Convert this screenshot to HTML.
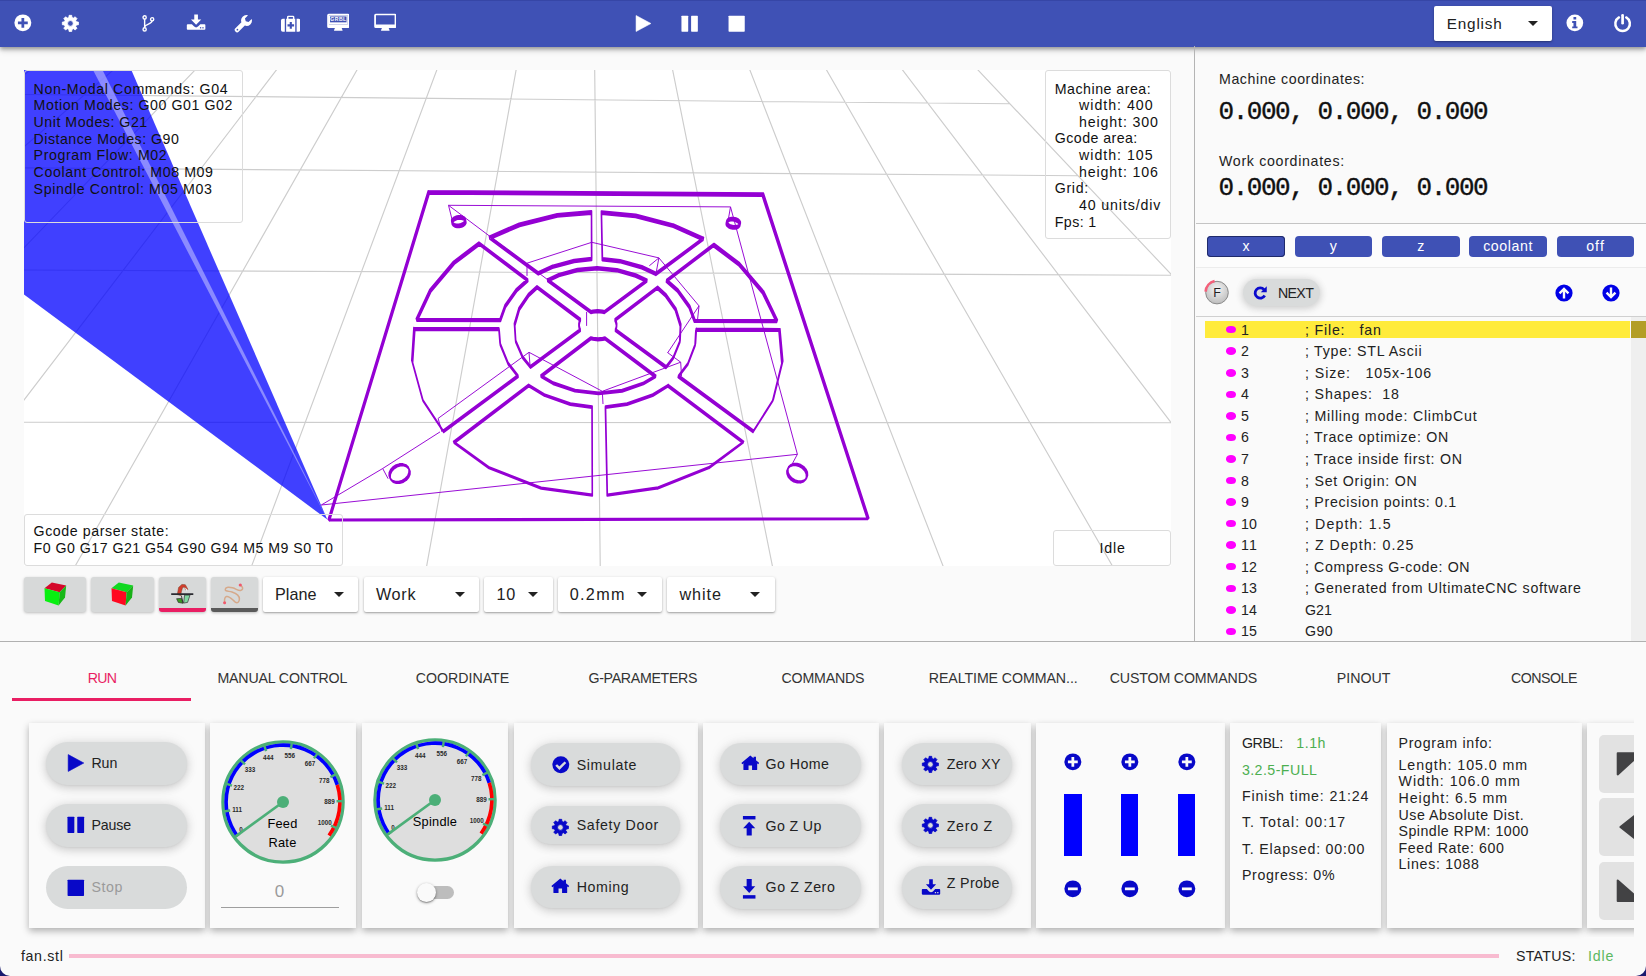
<!DOCTYPE html>
<html><head><meta charset="utf-8"><title>UltimateCNC</title>
<style>
html,body{margin:0;padding:0}
body{width:1646px;height:976px;overflow:hidden;position:relative;background:#fafafa;font-family:"Liberation Sans",sans-serif;font-size:14.5px;color:#212121}
.abs{position:absolute}
#topbar{position:absolute;left:0;top:0;width:1646px;height:46.5px;background:#3f51b5;box-shadow:0 2px 4px rgba(0,0,0,.32),0 4px 6px rgba(0,0,0,.12)}
#topbar:before{content:"";position:absolute;left:0;top:0;width:100%;height:1px;background:#3646a6}
.sel{position:absolute;background:#fff;border-radius:2px;box-shadow:0 1px 3px rgba(0,0,0,.28),0 1px 1px rgba(0,0,0,.12);box-sizing:border-box}
.sel i{position:absolute;top:50%;margin-top:-2.2px;margin-left:-0.4px;width:0;height:0;border-left:5.2px solid transparent;border-right:5.2px solid transparent;border-top:5.4px solid #222}
.ov{position:absolute;border:1px solid #dcdcdc;border-radius:3px;box-sizing:border-box}
.tb{position:absolute;top:576.9px;height:35.1px;background:#d7d9d9;border-radius:3px;box-shadow:0 1px 3px rgba(0,0,0,.25);box-sizing:border-box;overflow:hidden}
.bbtn{position:absolute;top:236px;height:20.5px;width:77.5px;background:#3f51b5;border-radius:4px;color:#fff;text-align:center;line-height:20px;box-sizing:border-box}
.row{position:absolute;left:1205px;width:425px;height:16.5px}
.dot{position:absolute;width:10px;height:7.6px;border-radius:50%;background:#ff00ff}
.card{position:absolute;top:722.5px;height:205.3px;background:#fafafa;box-shadow:0 3px 7px rgba(0,0,0,.3)}
.pill{position:absolute;height:43px;border-radius:22px;background:#d9dbdb;box-shadow:0 1px 2px rgba(0,0,0,.04),0 3px 10px rgba(0,0,0,.15),0 0 14px rgba(0,0,0,.08)}
.pill.flat{box-shadow:none}
.tab{position:absolute;top:664px;width:180.2px;height:28px;text-align:center;line-height:28px;color:#333;white-space:pre}
</style></head><body>

<div id="topbar">
<svg style="position:absolute;left:13.45px;top:13.45px" width="19.7" height="19.7" viewBox="0 0 20 20"><circle cx="10" cy="10" r="8.6" fill="#fff"/><path d="M8.6 5h2.8v3.6h3.6v2.8h-3.6v3.6h-2.8v-3.6h-3.6v-2.8h3.6z" fill="#3f51b5"/></svg>
<svg style="position:absolute;left:61.1px;top:14.0px" width="18.8" height="18.8" viewBox="0 0 20 20"><path fill-rule="evenodd" d="M16.39 8.36L18.58 8.57L18.58 11.43L16.39 11.64L15.68 13.36L17.08 15.06L15.06 17.08L13.36 15.68L11.64 16.39L11.43 18.58L8.57 18.58L8.36 16.39L6.64 15.68L4.94 17.08L2.92 15.06L4.32 13.36L3.61 11.64L1.42 11.43L1.42 8.57L3.61 8.36L4.32 6.64L2.92 4.94L4.94 2.92L6.64 4.32L8.36 3.61L8.57 1.42L11.43 1.42L11.64 3.61L13.36 4.32L15.06 2.92L17.08 4.94L15.68 6.64ZM7.00 10.00a3.00 3.00 0 1 0 6.00 0a3.00 3.00 0 1 0 -6.00 0Z" fill="#fff" stroke="#fff" stroke-width="0.8" stroke-linejoin="round"/></svg>
<svg style="position:absolute;left:139.1px;top:13.9px" width="18.8" height="18.8" viewBox="0 0 20 20"><g fill="none" stroke="#fff" stroke-width="1.5"><circle cx="6" cy="3.6" r="1.7"/><circle cx="14" cy="5.6" r="1.7"/><circle cx="6" cy="16.4" r="1.7"/><path d="M6 5.3V14.7M14 7.3C14 11 6 10.5 6 14.2"/></g></svg>
<svg style="position:absolute;left:185.9px;top:13.2px" width="20.2" height="18.4" viewBox="-1 0 22 20"><path d="M8 1.5h4v5.5h3.6L10 12.8 4.4 7H8z" fill="#fff"/><path d="M0.8 12.2h4.6l2.2 2.3a3.3 3.3 0 0 0 4.8 0l2.2-2.3h4.6a0.9 0.9 0 0 1 .9.9v4.3a0.9 0.9 0 0 1-.9.9H0.8a0.9 0.9 0 0 1-.9-.9v-4.3a0.9 0.9 0 0 1 .9-.9z" fill="#fff"/><rect x="14.2" y="15.4" width="1.4" height="1.4" fill="#3f51b5"/><rect x="16.8" y="15.4" width="1.4" height="1.4" fill="#3f51b5"/></svg>
<svg style="position:absolute;left:233.7px;top:13.7px" width="19" height="19" viewBox="0 0 20 20"><path d="M18.6 5.2l-3.3 3.3-2.9-.9-.9-2.9 3.3-3.3a5.6 5.6 0 0 0-7 7.2L1.5 14.9a2.2 2.2 0 0 0 3.6 3.6l6.300-6.300a5.600 5.600 0 0 0 7.200-7zM3.600 17.400a.9.900 0 1 1 0-1.800.900.900 0 0 1 0 1.800z" fill="#fff" fill-rule="evenodd"/></svg>
<svg style="position:absolute;left:280.5px;top:13.7px" width="19.4" height="19.4" viewBox="0 0 20 20"><path fill-rule="evenodd" d="M6.200 4.800V3.200a1.500 1.500 0 0 1 1.500-1.500h4.600a1.500 1.500 0 0 1 1.500 1.500v1.600h.9v13.500H5.300V4.800zM7.700 4.800h4.600V3.200H7.700zM9 8.200v2.300H6.700v2.400H9v2.300h2.200v-2.300h2.300v-2.400h-2.300V8.200z" fill="#fff"/><path d="M1.800 4.800h2.100v13.500H1.800a1.800 1.800 0 0 1-1.800-1.800V6.600a1.800 1.800 0 0 1 1.800-1.800zM16.100 4.800h2.100a1.800 1.800 0 0 1 1.800 1.800v9.900a1.800 1.800 0 0 1-1.800 1.800h-2.100z" fill="#fff"/></svg>
<svg style="position:absolute;left:327.2px;top:12.9px" width="21.6" height="18.2" viewBox="-0.5 0.5 22 18.5"><path fill-rule="evenodd" d="M1.300 1.200h19.400a1.600 1.600 0 0 1 1.600 1.600v11.400a1.600 1.600 0 0 1-1.600 1.600h-6.200c0 .9.500 1.500.8 1.900v.9H6.700v-.9c.300-.4.800-1 .800-1.900H1.300a1.600 1.600 0 0 1-1.600-1.600V2.800a1.600 1.600 0 0 1 1.600-1.600zM1.500 2.900v9.300h19V2.900z" fill="#fff"/><path d="M1.500 2.900h19v9.300h-19z" fill="#fff"/><rect x="2.600" y="4" width="16.800" height="6" fill="#3f51b5"/><text x="11.200" y="9" font-family="Liberation Sans" font-weight="bold" font-size="5.200" text-anchor="middle" fill="#fff" letter-spacing="0.5">GRBL</text></svg>
<svg style="position:absolute;left:374.2px;top:12.9px" width="21.6" height="18.2" viewBox="-0.5 0.5 22 18.5"><path fill-rule="evenodd" d="M1.300 1.200h19.400a1.600 1.600 0 0 1 1.600 1.600v11.400a1.600 1.600 0 0 1-1.600 1.600h-6.200c0 .9.500 1.500.8 1.900v.9H6.700v-.9c.300-.4.800-1 .800-1.900H1.300a1.600 1.600 0 0 1-1.600-1.600V2.800a1.600 1.600 0 0 1 1.600-1.600zM1.500 2.900v9.300h19V2.900z" fill="#fff"/></svg>
<svg style="position:absolute;left:633.7px;top:13.9px" width="19" height="19" viewBox="0 0 20 20"><path d="M2.200 1.600L17.800 10 2.200 18.400z" fill="#fff" stroke="#fff" stroke-width="0.6" stroke-linejoin="round"/></svg>
<svg style="position:absolute;left:680.05px;top:13.65px" width="19.3" height="19.3" viewBox="0 0 20 20"><rect x="1.500" y="1.700" width="7" height="16.600" rx=".6" fill="#fff"/><rect x="11.500" y="1.700" width="7" height="16.600" rx=".6" fill="#fff"/></svg>
<svg style="position:absolute;left:726.95px;top:13.65px" width="19.3" height="19.3" viewBox="0 0 20 20"><rect x="1.600" y="1.700" width="16.800" height="16.600" rx=".7" fill="#fff"/></svg>
<div class="sel" style="left:1434.4px;top:5.8px;width:117.7px;height:35px"><i style="left:93.5px"></i></div>
<div style="position:absolute;left:1446.8px;top:16.15px;line-height:1;white-space:pre;"><span style="font-size:15.3px;letter-spacing:0.80px;">English</span></div>
<svg style="position:absolute;left:1565.45px;top:13.45px" width="19.7" height="19.7" viewBox="0 0 20 20"><circle cx="10" cy="10" r="8.500" fill="#fff"/><path d="M8.600 4h2.800v2.500H8.600zM7.300 8.200h4.100v5.400h1.300v2H7.300v-2h1.300v-3.400H7.300z" fill="#3f51b5"/></svg>
<svg style="position:absolute;left:1612.6px;top:13.6px" width="19.2" height="19.2" viewBox="0 0 20 20"><path d="M13.800 3.600a7.600 7.600 0 1 1-7.600 0" fill="none" stroke="#fff" stroke-width="2.600" stroke-linecap="round"/><path d="M10 1.400V9.600" stroke="#fff" stroke-width="2.800" stroke-linecap="round"/></svg>
</div>
<svg width="1147.5" height="496" viewBox="23.5 70 1147.5 496" style="position:absolute;left:23.5px;top:70px;background:#fff"><path d="M-2653.4 808.3L-211.4 -56.6M-2401.3 805.9L-152.7 -55.8M-2152.5 803.5L-94.3 -55.0M-1906.9 801.2L-36.0 -54.2M-1664.3 798.9L22.1 -53.5M-1424.8 796.6L80.0 -52.7M-1188.3 794.3L137.7 -51.9M-954.8 792.1L195.2 -51.1M-724.1 789.9L252.6 -50.3M-496.3 787.8L309.7 -49.6M-271.3 785.6L366.7 -48.8M-48.9 783.5L423.5 -48.0M170.7 781.4L480.1 -47.3M387.7 779.4L536.6 -46.5M602.1 777.3L592.9 -45.8M814.0 775.3L649.0 -45.0M1023.3 773.3L704.9 -44.2M1230.3 771.3L760.6 -43.5M1434.8 769.4L816.2 -42.7M1636.9 767.5L871.6 -42.0M-2663.3 421.1L1311.1 422.8M-1978.6 260.8L1171.7 275.3M-1532.0 156.3L1077.5 175.7M-1217.8 82.7L1009.5 103.8M-984.6 28.2L958.1 49.5" fill="none" stroke="#cdcdcd" stroke-width="1.15"/><polygon points="23.5,70 130.8,70 326.8,519.5 23.5,294.5" fill="#0000ff" fill-opacity="0.75"/><polygon points="92.5,70 102,70 326.8,519.5" fill="#a4a4ff" fill-opacity="0.75"/><g fill="#9400d3" stroke="#9400d3" stroke-width="1.6" stroke-linejoin="round"><path d="M327.8 519.2L868.3 518.0L867.0 519.5L329.0 520.8ZM868.3 518.0L762.8 193.0L761.9 196.3L867.0 519.5ZM762.8 193.0L427.8 190.7L428.6 194.0L761.9 196.3ZM427.8 190.7L327.8 519.2L329.0 520.8L428.6 194.0Z"/><path d="M776.9 319.8L763.0 290.9L762.1 293.7L776.0 322.4ZM763.0 290.9L738.9 262.7L738.2 265.6L762.1 293.7ZM738.9 262.7L713.5 243.5L712.9 246.5L738.2 265.6ZM713.5 243.5L666.3 279.4L665.9 282.2L712.9 246.5ZM666.3 279.4L677.4 289.2L676.9 291.9L665.9 282.2ZM677.4 289.2L689.2 305.5L688.7 308.2L676.9 291.9ZM689.2 305.5L694.4 319.5L693.9 322.1L688.7 308.2ZM694.4 319.5L776.9 319.8L776.0 322.4L693.9 322.1Z"/><path d="M703.0 237.4L673.2 224.2L672.8 227.3L702.4 240.4ZM673.2 224.2L635.3 214.3L635.0 217.5L672.8 227.3ZM635.3 214.3L600.9 211.0L600.9 214.1L635.0 217.5ZM600.9 211.0L601.9 257.7L601.8 260.6L600.9 214.1ZM601.9 257.7L619.5 259.7L619.4 262.6L601.8 260.6ZM619.5 259.7L641.4 265.8L641.2 268.7L619.4 262.6ZM641.4 265.8L655.6 272.5L655.3 275.3L641.2 268.7ZM655.6 272.5L703.0 237.4L702.4 240.4L655.3 275.3Z"/><path d="M591.0 210.9L556.7 213.8L556.8 217.0L591.0 214.1ZM556.7 213.8L518.7 223.2L519.1 226.4L556.8 217.0ZM518.7 223.2L488.9 236.2L489.4 239.2L519.1 226.4ZM488.9 236.2L537.6 271.9L537.8 274.8L489.4 239.2ZM537.6 271.9L551.7 265.4L551.9 268.3L537.8 274.8ZM551.7 265.4L573.6 259.5L573.6 262.4L551.9 268.3ZM573.6 259.5L591.2 257.6L591.1 260.5L573.6 262.4ZM591.2 257.6L591.0 210.9L591.0 214.1L591.1 260.5Z"/><path d="M478.4 242.2L453.1 261.3L453.8 264.2L479.0 245.2ZM453.1 261.3L429.3 289.6L430.1 292.3L453.8 264.2ZM429.3 289.6L415.8 318.6L416.6 321.2L430.1 292.3ZM415.8 318.6L499.5 318.9L499.9 321.5L416.6 321.2ZM499.5 318.9L504.6 304.8L504.9 307.5L499.9 321.5ZM504.6 304.8L516.1 288.5L516.4 291.3L504.9 307.5ZM516.1 288.5L527.0 278.8L527.3 281.6L516.4 291.3ZM527.0 278.8L478.4 242.2L479.0 245.2L527.3 281.6Z"/><path d="M413.4 327.6L411.3 360.4L412.1 362.7L414.3 330.1ZM411.3 360.4L421.9 399.1L422.7 401.3L412.1 362.7ZM421.9 399.1L442.5 430.4L443.2 432.4L422.7 401.3ZM442.5 430.4L517.3 375.0L517.6 377.3L443.2 432.4ZM517.3 375.0L507.4 362.3L507.8 364.7L517.6 377.3ZM507.4 362.3L499.5 342.9L499.9 345.4L507.8 364.7ZM499.5 342.9L498.3 327.8L498.7 330.4L499.9 345.4ZM498.3 327.8L413.4 327.6L414.3 330.1L498.7 330.4Z"/><path d="M453.1 441.3L488.1 466.7L488.6 468.5L453.8 443.3ZM488.1 466.7L540.5 487.2L540.7 489.0L488.6 468.5ZM540.5 487.2L591.8 494.3L591.8 496.0L540.7 489.0ZM591.8 494.3L591.6 406.0L591.5 408.1L591.8 496.0ZM591.6 406.0L569.7 403.0L569.8 405.2L591.5 408.1ZM569.7 403.0L543.7 393.9L543.9 396.1L569.8 405.2ZM543.7 393.9L528.1 384.4L528.3 386.6L543.9 396.1ZM528.1 384.4L453.1 441.3L453.8 443.3L528.3 386.6Z"/><path d="M606.8 494.3L657.8 487.1L657.4 488.8L606.7 496.0ZM657.8 487.1L709.1 466.5L708.6 468.3L657.4 488.8ZM709.1 466.5L743.1 441.3L742.3 443.2L708.6 468.3ZM743.1 441.3L667.7 384.6L667.3 386.8L742.3 443.2ZM667.7 384.6L652.4 394.0L652.1 396.2L667.3 386.8ZM652.4 394.0L626.7 403.0L626.5 405.2L652.1 396.2ZM626.7 403.0L605.0 406.0L604.9 408.1L626.5 405.2ZM605.0 406.0L606.8 494.3L606.7 496.0L604.9 408.1Z"/><path d="M753.2 430.4L772.8 399.5L771.9 401.6L752.4 432.4ZM772.8 399.5L782.3 361.1L781.3 363.5L771.9 401.6ZM782.3 361.1L779.4 328.7L778.5 331.2L781.3 363.5ZM779.4 328.7L695.9 328.4L695.3 331.0L778.5 331.2ZM695.9 328.4L695.0 343.4L694.5 345.9L695.3 331.0ZM695.0 343.4L687.6 362.7L687.2 365.0L694.5 345.9ZM687.6 362.7L678.2 375.2L677.7 377.5L687.2 365.0ZM678.2 375.2L753.2 430.4L752.4 432.4L677.7 377.5Z"/><path d="M646.4 279.3L635.2 274.0L634.9 276.9L646.1 282.1ZM635.2 274.0L616.4 268.7L616.2 271.6L634.9 276.9ZM616.4 268.7L596.6 266.8L596.6 269.7L616.2 271.6ZM596.6 266.8L576.9 268.5L577.0 271.4L596.6 269.7ZM576.9 268.5L558.2 273.7L558.4 276.5L577.0 271.4ZM558.2 273.7L547.1 278.9L547.3 281.7L558.4 276.5ZM547.1 278.9L590.4 310.7L590.4 313.4L547.3 281.7ZM590.4 310.7L592.4 310.3L592.3 312.9L590.4 313.4ZM592.4 310.3L597.1 309.8L597.1 312.5L592.3 312.9ZM597.1 309.8L601.9 310.3L601.9 312.9L597.1 312.5ZM601.9 310.3L603.9 310.8L603.8 313.4L601.9 312.9ZM603.9 310.8L646.4 279.3L646.1 282.1L603.8 313.4Z"/><path d="M536.5 285.9L528.0 293.7L528.3 296.4L536.7 288.7ZM528.0 293.7L518.5 307.7L518.8 310.3L528.3 296.4ZM518.5 307.7L513.9 323.4L514.3 325.9L518.8 310.3ZM513.9 323.4L515.0 339.9L515.3 342.4L514.3 325.9ZM515.0 339.9L522.0 356.0L522.3 358.4L515.3 342.4ZM522.0 356.0L529.7 365.8L530.0 368.1L522.3 358.4ZM529.7 365.8L579.6 328.8L579.7 331.3L530.0 368.1ZM579.6 328.8L579.0 327.2L579.0 329.8L579.7 331.3ZM579.0 327.2L578.4 323.6L578.4 326.1L579.0 329.8ZM578.4 323.6L579.1 319.9L579.1 322.5L578.4 326.1ZM579.1 319.9L579.8 318.5L579.8 321.1L579.1 322.5ZM579.8 318.5L536.5 285.9L536.7 288.7L579.8 321.1Z"/><path d="M540.5 375.0L552.7 382.1L552.8 384.4L540.7 377.3ZM552.7 382.1L574.4 389.6L574.5 391.8L552.8 384.4ZM574.4 389.6L598.1 392.2L598.0 394.4L574.5 391.8ZM598.1 392.2L621.7 389.6L621.6 391.9L598.0 394.4ZM621.7 389.6L643.2 382.2L642.9 384.5L621.6 391.9ZM643.2 382.2L655.2 375.2L654.8 377.5L642.9 384.5ZM655.2 375.2L604.5 337.1L604.4 339.6L654.8 377.5ZM604.5 337.1L602.5 337.6L602.4 340.1L604.4 339.6ZM602.5 337.6L597.5 338.1L597.4 340.6L602.4 340.1ZM597.5 338.1L592.5 337.5L592.4 340.0L597.4 340.6ZM592.5 337.5L590.4 337.0L590.4 339.5L592.4 340.0ZM590.4 337.0L540.5 375.0L540.7 377.3L590.4 339.5Z"/><path d="M665.7 366.0L673.1 356.4L672.7 358.8L665.3 368.4ZM673.1 356.4L679.6 340.3L679.2 342.8L672.7 358.8ZM679.6 340.3L680.3 323.9L679.8 326.5L679.2 342.8ZM680.3 323.9L675.4 308.2L675.0 310.9L679.8 326.5ZM675.4 308.2L665.6 294.2L665.3 297.0L675.0 310.9ZM665.6 294.2L657.1 286.4L656.7 289.1L665.3 297.0ZM657.1 286.4L614.7 318.6L614.6 321.2L656.7 289.1ZM614.7 318.6L615.4 320.1L615.3 322.6L614.6 321.2ZM615.4 320.1L616.2 323.7L616.1 326.3L615.3 322.6ZM616.2 323.7L615.7 327.4L615.6 329.9L616.1 326.3ZM615.7 327.4L615.1 328.9L615.0 331.4L615.6 329.9ZM615.1 328.9L665.7 366.0L665.3 368.4L615.0 331.4Z"/><path d="M408.5 472.6L408.6 469.6L409.5 471.4L409.4 474.4ZM408.6 469.6L407.5 466.9L408.4 468.8L409.5 471.4ZM407.5 466.9L405.4 464.9L406.2 466.8L408.4 468.8ZM405.4 464.9L402.4 463.9L403.3 465.8L406.2 466.8ZM402.4 463.9L399.1 463.9L399.9 465.8L403.3 465.8ZM399.1 463.9L395.6 465.0L396.5 466.8L399.9 465.8ZM395.6 465.0L392.5 466.9L393.5 468.8L396.5 466.8ZM392.5 466.9L390.2 469.6L391.1 471.4L393.5 468.8ZM390.2 469.6L388.8 472.6L389.8 474.5L391.1 471.4ZM388.8 472.6L388.7 475.7L389.6 477.5L389.8 474.5ZM388.7 475.7L389.7 478.4L390.7 480.2L389.6 477.5ZM389.7 478.4L391.9 480.5L392.8 482.2L390.7 480.2ZM391.9 480.5L394.9 481.6L395.8 483.3L392.8 482.2ZM394.9 481.6L398.3 481.6L399.2 483.3L395.8 483.3ZM398.3 481.6L401.8 480.5L402.7 482.2L399.2 483.3ZM401.8 480.5L404.9 478.4L405.8 480.2L402.7 482.2ZM404.9 478.4L407.3 475.7L408.1 477.5L405.8 480.2ZM407.3 475.7L408.5 472.6L409.4 474.4L408.1 477.5Z"/><path d="M464.8 220.1L464.7 218.6L465.3 221.8L465.4 223.2ZM464.7 218.6L463.8 217.4L464.4 220.5L465.3 221.8ZM463.8 217.4L462.2 216.4L462.8 219.6L464.4 220.5ZM462.2 216.4L460.2 215.9L460.8 219.1L462.8 219.6ZM460.2 215.9L457.8 215.9L458.4 219.0L460.8 219.1ZM457.8 215.9L455.5 216.4L456.1 219.5L458.4 219.0ZM455.5 216.4L453.5 217.3L454.1 220.5L456.1 219.5ZM453.5 217.3L452.0 218.6L452.6 221.7L454.1 220.5ZM452.0 218.6L451.2 220.0L451.9 223.2L452.6 221.7ZM451.2 220.0L451.3 221.5L451.9 224.6L451.9 223.2ZM451.3 221.5L452.1 222.8L452.8 225.9L451.9 224.6ZM452.1 222.8L453.7 223.7L454.4 226.9L452.8 225.9ZM453.7 223.7L455.8 224.3L456.5 227.4L454.4 226.9ZM455.8 224.3L458.2 224.3L458.8 227.4L456.5 227.4ZM458.2 224.3L460.5 223.8L461.2 226.9L458.8 227.4ZM460.5 223.8L462.6 222.8L463.2 226.0L461.2 226.9ZM462.6 222.8L464.0 221.5L464.6 224.7L463.2 226.0ZM464.0 221.5L464.8 220.1L465.4 223.2L464.6 224.7Z"/><path d="M806.8 472.2L805.4 469.2L804.4 471.0L805.8 474.0ZM805.4 469.2L803.1 466.6L802.0 468.4L804.4 471.0ZM803.1 466.6L800.0 464.6L799.0 466.5L802.0 468.4ZM800.0 464.6L796.6 463.6L795.6 465.5L799.0 466.5ZM796.6 463.6L793.3 463.6L792.3 465.5L795.6 465.5ZM793.3 463.6L790.5 464.7L789.5 466.5L792.3 465.5ZM790.5 464.7L788.4 466.6L787.5 468.4L789.5 466.5ZM788.4 466.6L787.4 469.2L786.4 471.0L787.5 468.4ZM787.4 469.2L787.5 472.3L786.6 474.0L786.4 471.0ZM787.5 472.3L788.9 475.3L787.9 477.1L786.6 474.0ZM788.9 475.3L791.2 478.0L790.3 479.8L787.9 477.1ZM791.2 478.0L794.3 480.0L793.3 481.7L790.3 479.8ZM794.3 480.0L797.7 481.1L796.8 482.8L793.3 481.7ZM797.7 481.1L801.1 481.1L800.1 482.8L796.8 482.8ZM801.1 481.1L804.0 480.0L803.0 481.7L800.1 482.8ZM804.0 480.0L806.1 478.0L805.0 479.7L803.0 481.7ZM806.1 478.0L807.0 475.3L806.0 477.1L805.0 479.7ZM807.0 475.3L806.8 472.2L805.8 474.0L806.0 477.1Z"/><path d="M739.8 221.8L739.0 220.3L738.3 223.4L739.1 224.9ZM739.0 220.3L737.6 219.0L736.8 222.2L738.3 223.4ZM737.6 219.0L735.5 218.1L734.8 221.2L736.8 222.2ZM735.5 218.1L733.3 217.6L732.5 220.7L734.8 221.2ZM733.3 217.6L730.9 217.6L730.2 220.7L732.5 220.7ZM730.9 217.6L728.9 218.0L728.2 221.2L730.2 220.7ZM728.9 218.0L727.4 219.0L726.7 222.1L728.2 221.2ZM727.4 219.0L726.5 220.2L725.8 223.3L726.7 222.1ZM726.5 220.2L726.5 221.7L725.8 224.8L725.8 223.3ZM726.5 221.7L727.2 223.1L726.5 226.2L725.8 224.8ZM727.2 223.1L728.7 224.4L728.0 227.5L726.5 226.2ZM728.7 224.4L730.7 225.4L730.0 228.5L728.0 227.5ZM730.7 225.4L733.1 225.9L732.3 229.0L730.0 228.5ZM733.1 225.9L735.4 225.9L734.7 229.0L732.3 229.0ZM735.4 225.9L737.5 225.4L736.7 228.5L734.7 229.0ZM737.5 225.4L739.0 224.5L738.2 227.6L736.7 228.5ZM739.0 224.5L739.8 223.2L739.1 226.3L738.2 227.6ZM739.8 223.2L739.8 221.8L739.1 224.9L739.1 226.3Z"/></g><path d="M320.8 505L796.9 454.3L730 206.9L448 205.3L546.5 279.2M320.8 505L382.2 468.5L439.5 431.9M437.6 418.4L528.5 352.3L601.8 391.3L680.2 362.2L667.1 352.6M526.5 263.2L591.3 242.3L658.4 257.9L698.5 305.9L667.1 352.9M448 205.3L452 221.3M730 206.9L727.2 223M796.9 454.3L790.4 466.3M382.2 468.5L387.6 478.7M437.6 418.4L441.5 432M528.5 352.3L529.7 367.7M526.5 263.2L526.5 275.9M658.4 257.9L655.8 271.9M658.4 257.9L648.8 265.8M680.2 362.2L681 376M698.5 305.9L697 320M586.1 312L586.1 325.9M601.8 391.3L602.5 404" fill="none" stroke="#9400d3" stroke-width="1" stroke-opacity="0.95"/></svg>
<div class="ov" style="left:23.5px;top:70px;width:219px;height:152.5px"></div>
<div style="position:absolute;left:33.6px;top:82.08px;line-height:1;white-space:pre;color:#111;"><span style="font-size:14.2px;letter-spacing:0.61px;">Non-Modal Commands: G04</span></div>
<div style="position:absolute;left:33.6px;top:98.08px;line-height:1;white-space:pre;color:#111;"><span style="font-size:14.2px;letter-spacing:0.56px;">Motion Modes: G00 G01 G02</span></div>
<div style="position:absolute;left:33.6px;top:115.08px;line-height:1;white-space:pre;color:#111;"><span style="font-size:14.2px;letter-spacing:0.51px;">Unit Modes: G21</span></div>
<div style="position:absolute;left:33.6px;top:132.08px;line-height:1;white-space:pre;color:#111;"><span style="font-size:14.2px;letter-spacing:0.49px;">Distance Modes: G90</span></div>
<div style="position:absolute;left:33.6px;top:148.08px;line-height:1;white-space:pre;color:#111;"><span style="font-size:14.2px;letter-spacing:0.58px;">Program Flow: M02</span></div>
<div style="position:absolute;left:33.6px;top:165.08px;line-height:1;white-space:pre;color:#111;"><span style="font-size:14.2px;letter-spacing:0.60px;">Coolant Control: M08 M09</span></div>
<div style="position:absolute;left:33.6px;top:182.08px;line-height:1;white-space:pre;color:#111;"><span style="font-size:14.2px;letter-spacing:0.62px;">Spindle Control: M05 M03</span></div>
<div class="ov" style="left:1045px;top:70px;width:126px;height:169px"></div>
<div style="position:absolute;left:1054.8px;top:82.08px;line-height:1;white-space:pre;color:#111;"><span style="font-size:14.2px;letter-spacing:0.50px;">Machine area:</span></div>
<div style="position:absolute;left:1079.0px;top:98.08px;line-height:1;white-space:pre;color:#111;"><span style="font-size:14.2px;letter-spacing:0.99px;">width: 400</span></div>
<div style="position:absolute;left:1079.0px;top:115.08px;line-height:1;white-space:pre;color:#111;"><span style="font-size:14.2px;letter-spacing:0.88px;">height: 300</span></div>
<div style="position:absolute;left:1054.8px;top:131.08px;line-height:1;white-space:pre;color:#111;"><span style="font-size:14.2px;letter-spacing:0.44px;">Gcode area:</span></div>
<div style="position:absolute;left:1079.0px;top:148.08px;line-height:1;white-space:pre;color:#111;"><span style="font-size:14.2px;letter-spacing:0.99px;">width: 105</span></div>
<div style="position:absolute;left:1079.0px;top:165.08px;line-height:1;white-space:pre;color:#111;"><span style="font-size:14.2px;letter-spacing:0.88px;">height: 106</span></div>
<div style="position:absolute;left:1054.8px;top:181.08px;line-height:1;white-space:pre;color:#111;"><span style="font-size:14.2px;letter-spacing:0.64px;">Grid:</span></div>
<div style="position:absolute;left:1079.0px;top:198.08px;line-height:1;white-space:pre;color:#111;"><span style="font-size:14.2px;letter-spacing:0.87px;">40 units/div</span></div>
<div style="position:absolute;left:1054.8px;top:215.08px;line-height:1;white-space:pre;color:#111;"><span style="font-size:14.2px;letter-spacing:0.40px;">Fps: 1</span></div>
<div class="ov" style="left:23.5px;top:513.8px;width:319.5px;height:52px"></div>
<div style="position:absolute;left:33.5px;top:524.08px;line-height:1;white-space:pre;color:#111;"><span style="font-size:14.2px;letter-spacing:0.59px;">Gcode parser state:</span></div>
<div style="position:absolute;left:33.5px;top:541.08px;line-height:1;white-space:pre;color:#111;"><span style="font-size:14.2px;letter-spacing:0.48px;">F0 G0 G17 G21 G54 G90 G94 M5 M9 S0 T0</span></div>
<div class="ov" style="left:1053.3px;top:529.5px;width:117.7px;height:36.3px"></div>
<div style="position:absolute;left:1099.5px;top:541.08px;line-height:1;white-space:pre;color:#111;"><span style="font-size:14.2px;letter-spacing:0.84px;">Idle</span></div>
<div class="tb" style="left:23.7px;width:62.4px"><svg class="abs" style="left:0;top:0" width="62" height="35" viewBox="0 0 62 35"><polygon points="20.5,11.2 27.8,5.4 42.2,8.6 35.6,15.2" fill="#d4082a"/><polygon points="20.5,11.2 35.6,15.2 34.6,28.6 21,23.9" fill="#08f010"/><polygon points="35.6,15.2 42.2,8.6 41,20.5 34.6,28.6" fill="#18b818"/></svg></div>
<div class="tb" style="left:91.3px;width:62.4px"><svg class="abs" style="left:0;top:0" width="62" height="35" viewBox="0 0 62 35"><polygon points="20.5,11.2 27.8,5.4 42.2,8.6 35.6,15.2" fill="#10d820"/><polygon points="20.5,11.2 35.6,15.2 34.6,28.6 21,23.9" fill="#ff0820"/><polygon points="35.6,15.2 42.2,8.6 41,20.5 34.6,28.6" fill="#18b018"/></svg></div>
<div class="tb" style="left:158.8px;width:47.2px;border-bottom:4px solid #e91e63"><svg class="abs" style="left:0;top:0" width="47" height="31" viewBox="0 0 47 31"><path d="M18.3 17.7L19.6 10.4 22.9 7.4 26.3 7.7 29 12.4 26.6 13 25.6 10 23.6 10.4 22.3 15 21.9 18.4Z" fill="#d23c2c" stroke="#7a3a20" stroke-width=".5"/><path d="M25.8 10.500l1.500 4 1.200-2z" fill="#eee"/><path d="M17.600 21.700L22.600 21.400 23.900 26.300 19.300 25.400Z" fill="#3a9a20" stroke="#333" stroke-width=".7"/><path d="M25.600 18.100L31 18.100 28.600 25.400 24.600 26.100Z" fill="#7fd8a0" stroke="#333" stroke-width=".7"/><path d="M12.200 17.100H34.300" stroke="#2a2a30" stroke-width="1.600"/><path d="M22.300 18.500l1.800 7.600" stroke="#222" stroke-width=".8"/></svg></div>
<div class="tb" style="left:210.900px;width:47px;border-bottom:4px solid #5a5a5a"><svg class="abs" style="left:0;top:0" width="47" height="31" viewBox="0 0 47 31"><path d="M13.600 25.700C13.300 22.500 14 19.900 15.500 19.500 18.500 18.700 21 22.500 24.300 25.100 26.200 26.400 28.300 25.500 28.400 22 28.500 18.500 24 16 21 15 17.500 14 13.800 14.500 14.300 12.200 14.800 9.800 18.500 10 21.500 10.800 25 11.800 27.500 14 29.500 13.500 31.500 13 32.200 11.500 31.200 10 30.500 9 29.700 8.500 29 8" fill="none" stroke="#d6a98a" stroke-width="1.500"/><circle cx="13.600" cy="25.700" r="1.500" fill="#f0586c"/><circle cx="29.300" cy="8" r="1.600" fill="#f0586c"/></svg></div>
<div class="sel" style="left:262.8px;top:577px;width:95.7px;height:35px"><i style="left:71.5px"></i></div>
<div style="position:absolute;left:275.0px;top:586.39px;line-height:1;white-space:pre;color:#222;"><span style="font-size:16.2px;letter-spacing:-0.00px;">Plane</span></div>
<div class="sel" style="left:363.6px;top:577px;width:115px;height:35px"><i style="left:91.29999999999995px"></i></div>
<div style="position:absolute;left:375.9px;top:586.39px;line-height:1;white-space:pre;color:#222;"><span style="font-size:16.2px;letter-spacing:0.71px;">Work</span></div>
<div class="sel" style="left:484.2px;top:577px;width:68.4px;height:35px"><i style="left:44.69999999999999px"></i></div>
<div style="position:absolute;left:496.5px;top:586.39px;line-height:1;white-space:pre;color:#222;"><span style="font-size:16.2px;letter-spacing:0.79px;">10</span></div>
<div class="sel" style="left:557.7px;top:577px;width:104.3px;height:35px"><i style="left:80.09999999999991px"></i></div>
<div style="position:absolute;left:569.7px;top:586.39px;line-height:1;white-space:pre;color:#222;"><span style="font-size:16.2px;letter-spacing:1.33px;">0.2mm</span></div>
<div class="sel" style="left:667.2px;top:577px;width:107.9px;height:35px"><i style="left:83.69999999999993px"></i></div>
<div style="position:absolute;left:679.4px;top:586.39px;line-height:1;white-space:pre;color:#222;"><span style="font-size:16.2px;letter-spacing:0.95px;">white</span></div>
<div class="abs" style="left:1194.3px;top:46px;width:1.2px;height:595.5px;background:#b4b4b4"></div>
<div class="abs" style="left:0;top:641px;width:1646px;height:1.200px;background:#b0b0b0"></div>
<div style="position:absolute;left:1219.0px;top:72.08px;line-height:1;white-space:pre;color:#222;"><span style="font-size:14.2px;letter-spacing:0.56px;">Machine coordinates:</span></div>
<div style="position:absolute;left:1219.0px;top:154.08px;line-height:1;white-space:pre;color:#222;"><span style="font-size:14.2px;letter-spacing:0.69px;">Work coordinates:</span></div>
<div class="abs" style="left:1218.5px;top:98.5px;font-family:'Liberation Mono',monospace;font-size:26px;letter-spacing:-1.46px;color:#111;-webkit-text-stroke:0.35px #111;line-height:1;white-space:pre">0.000, 0.000, 0.000</div>
<div class="abs" style="left:1218.5px;top:175.0px;font-family:'Liberation Mono',monospace;font-size:26px;letter-spacing:-1.46px;color:#111;-webkit-text-stroke:0.35px #111;line-height:1;white-space:pre">0.000, 0.000, 0.000</div>
<div class="abs" style="left:1195.5px;top:223px;width:451px;height:1.2px;background:#c4c4c4"></div>
<div class="abs" style="left:1195.5px;top:224.2px;width:451px;height:43px;background:#fcfcfc"></div>
<div class="abs" style="left:1195.5px;top:267px;width:451px;height:1px;background:#ececec"></div>
<div class="bbtn" style="left:1207.2px;box-shadow:0 0 0 1px #1f2a6b inset;"><span style="font-size:14.2px;">x</span></div>
<div class="bbtn" style="left:1294.6px;"><span style="font-size:14.2px;">y</span></div>
<div class="bbtn" style="left:1382.0px;"><span style="font-size:14.2px;">z</span></div>
<div class="bbtn" style="left:1469.4px;"><span style="font-size:14.2px;letter-spacing:0.59px;">coolant</span></div>
<div class="bbtn" style="left:1556.8px;"><span style="font-size:14.2px;letter-spacing:1.09px;">off</span></div>
<svg class="abs" style="left:1203px;top:279px" width="28" height="28" viewBox="0 0 28 28"><defs><radialGradient id="fg" cx="50%" cy="35%" r="65%"><stop offset="0" stop-color="#f4f4f4"/><stop offset="1" stop-color="#bdbdbd"/></radialGradient></defs><circle cx="14" cy="13.600" r="11.300" fill="url(#fg)" stroke="#8a8a8a" stroke-width="1"/><path d="M2.600 12.600A11.800 11.800 0 0 1 11.600 2" fill="none" stroke="#f4607a" stroke-width="2.600"/><text x="14" y="18" text-anchor="middle" font-size="12.500" font-family="Liberation Sans" fill="#222">F</text></svg>
<div class="pill" style="left:1242.6px;top:279.3px;width:77.6px;height:27px;background:#d9dbdb;box-shadow:0 2px 8px rgba(0,0,0,.16),0 0 10px rgba(0,0,0,.08)"></div>
<svg style="position:absolute;left:1251.6px;top:284.5px" width="16" height="16" viewBox="0 0 20 20"><path d="M15.900 13.200a6.400 6.400 0 1 1-.8-7.400" fill="none" stroke="#0a0acd" stroke-width="3.500"/><path d="M18.400 1.600v7.400h-7.400z" fill="#0a0acd"/></svg>
<div style="position:absolute;left:1278.0px;top:286.08px;line-height:1;white-space:pre;color:#222;"><span style="font-size:14.2px;letter-spacing:-0.68px;">NEXT</span></div>
<svg style="position:absolute;left:1553.7px;top:282.5px" width="20" height="20" viewBox="0 0 20 20"><circle cx="10" cy="10" r="8.600" fill="#0000e6"/><path d="M10 4.200l5.300 5.300-1.700 1.700-2.400-2.400v6.800H8.800V8.800l-2.400 2.400-1.700-1.700z" fill="#fafafa"/></svg>
<svg style="position:absolute;left:1600.7px;top:282.5px" width="20" height="20" viewBox="0 0 20 20"><circle cx="10" cy="10" r="8.600" fill="#0000e6"/><path d="M10 15.800l5.300-5.300-1.700-1.700-2.400 2.400V4.400H8.800v6.800L6.400 8.800l-1.700 1.700z" fill="#fafafa"/></svg>
<div class="abs" style="left:1195.5px;top:315.5px;width:451px;height:1.2px;background:#d0d0d0"></div>
<div class="abs" style="left:1630.5px;top:317px;width:15.5px;height:324px;background:#efefef"></div>
<div class="abs" style="left:1205.3px;top:321px;width:425.200px;height:16.500px;background:#ffeb3b"></div>
<div class="abs" style="left:1630.5px;top:321px;width:15.5px;height:16.500px;background:#b39e26"></div>
<div class="dot" style="left:1225.700px;top:325.9px"></div>
<div style="position:absolute;left:1241.0px;top:323.08px;line-height:1;white-space:pre;color:#222;"><span style="font-size:14.2px;">1</span></div>
<div style="position:absolute;left:1305.0px;top:323.08px;line-height:1;white-space:pre;color:#222;"><span style="font-size:14.2px;letter-spacing:0.81px;">; File:   fan</span></div>
<div class="dot" style="left:1225.700px;top:347.4px"></div>
<div style="position:absolute;left:1241.0px;top:344.08px;line-height:1;white-space:pre;color:#222;"><span style="font-size:14.2px;">2</span></div>
<div style="position:absolute;left:1305.0px;top:344.08px;line-height:1;white-space:pre;color:#222;"><span style="font-size:14.2px;letter-spacing:0.73px;">; Type: STL Ascii</span></div>
<div class="dot" style="left:1225.700px;top:369.0px"></div>
<div style="position:absolute;left:1241.0px;top:366.08px;line-height:1;white-space:pre;color:#222;"><span style="font-size:14.2px;">3</span></div>
<div style="position:absolute;left:1305.0px;top:366.08px;line-height:1;white-space:pre;color:#222;"><span style="font-size:14.2px;letter-spacing:0.93px;">; Size:   105x-106</span></div>
<div class="dot" style="left:1225.700px;top:390.5px"></div>
<div style="position:absolute;left:1241.0px;top:387.08px;line-height:1;white-space:pre;color:#222;"><span style="font-size:14.2px;">4</span></div>
<div style="position:absolute;left:1305.0px;top:387.08px;line-height:1;white-space:pre;color:#222;"><span style="font-size:14.2px;letter-spacing:0.86px;">; Shapes:  18</span></div>
<div class="dot" style="left:1225.700px;top:412.1px"></div>
<div style="position:absolute;left:1241.0px;top:409.08px;line-height:1;white-space:pre;color:#222;"><span style="font-size:14.2px;">5</span></div>
<div style="position:absolute;left:1305.0px;top:409.08px;line-height:1;white-space:pre;color:#222;"><span style="font-size:14.2px;letter-spacing:0.78px;">; Milling mode: ClimbCut</span></div>
<div class="dot" style="left:1225.700px;top:433.6px"></div>
<div style="position:absolute;left:1241.0px;top:430.08px;line-height:1;white-space:pre;color:#222;"><span style="font-size:14.2px;">6</span></div>
<div style="position:absolute;left:1305.0px;top:430.08px;line-height:1;white-space:pre;color:#222;"><span style="font-size:14.2px;letter-spacing:0.74px;">; Trace optimize: ON</span></div>
<div class="dot" style="left:1225.700px;top:455.2px"></div>
<div style="position:absolute;left:1241.0px;top:452.08px;line-height:1;white-space:pre;color:#222;"><span style="font-size:14.2px;">7</span></div>
<div style="position:absolute;left:1305.0px;top:452.08px;line-height:1;white-space:pre;color:#222;"><span style="font-size:14.2px;letter-spacing:0.72px;">; Trace inside first: ON</span></div>
<div class="dot" style="left:1225.700px;top:476.8px"></div>
<div style="position:absolute;left:1241.0px;top:474.08px;line-height:1;white-space:pre;color:#222;"><span style="font-size:14.2px;">8</span></div>
<div style="position:absolute;left:1305.0px;top:474.08px;line-height:1;white-space:pre;color:#222;"><span style="font-size:14.2px;letter-spacing:0.78px;">; Set Origin: ON</span></div>
<div class="dot" style="left:1225.700px;top:498.3px"></div>
<div style="position:absolute;left:1241.0px;top:495.08px;line-height:1;white-space:pre;color:#222;"><span style="font-size:14.2px;">9</span></div>
<div style="position:absolute;left:1305.0px;top:495.08px;line-height:1;white-space:pre;color:#222;"><span style="font-size:14.2px;letter-spacing:0.71px;">; Precision points: 0.1</span></div>
<div class="dot" style="left:1225.700px;top:519.9px"></div>
<div style="position:absolute;left:1241.0px;top:517.08px;line-height:1;white-space:pre;color:#222;"><span style="font-size:14.2px;letter-spacing:0.02px;">10</span></div>
<div style="position:absolute;left:1305.0px;top:517.08px;line-height:1;white-space:pre;color:#222;"><span style="font-size:14.2px;letter-spacing:1.12px;">; Depth: 1.5</span></div>
<div class="dot" style="left:1225.700px;top:541.4px"></div>
<div style="position:absolute;left:1241.0px;top:538.08px;line-height:1;white-space:pre;color:#222;"><span style="font-size:14.2px;letter-spacing:1.07px;">11</span></div>
<div style="position:absolute;left:1305.0px;top:538.08px;line-height:1;white-space:pre;color:#222;"><span style="font-size:14.2px;letter-spacing:1.03px;">; Z Depth: 0.25</span></div>
<div class="dot" style="left:1225.700px;top:562.9px"></div>
<div style="position:absolute;left:1241.0px;top:560.08px;line-height:1;white-space:pre;color:#222;"><span style="font-size:14.2px;letter-spacing:0.02px;">12</span></div>
<div style="position:absolute;left:1305.0px;top:560.08px;line-height:1;white-space:pre;color:#222;"><span style="font-size:14.2px;letter-spacing:0.62px;">; Compress G-code: ON</span></div>
<div class="dot" style="left:1225.700px;top:584.5px"></div>
<div style="position:absolute;left:1241.0px;top:581.08px;line-height:1;white-space:pre;color:#222;"><span style="font-size:14.2px;letter-spacing:0.02px;">13</span></div>
<div style="position:absolute;left:1305.0px;top:581.08px;line-height:1;white-space:pre;color:#222;"><span style="font-size:14.2px;letter-spacing:0.68px;">; Generated from UltimateCNC software</span></div>
<div class="dot" style="left:1225.700px;top:606.1px"></div>
<div style="position:absolute;left:1241.0px;top:603.08px;line-height:1;white-space:pre;color:#222;"><span style="font-size:14.2px;letter-spacing:0.02px;">14</span></div>
<div style="position:absolute;left:1305.0px;top:603.08px;line-height:1;white-space:pre;color:#222;"><span style="font-size:14.2px;letter-spacing:0.04px;">G21</span></div>
<div class="dot" style="left:1225.700px;top:627.6px"></div>
<div style="position:absolute;left:1241.0px;top:624.08px;line-height:1;white-space:pre;color:#222;"><span style="font-size:14.2px;letter-spacing:0.02px;">15</span></div>
<div style="position:absolute;left:1305.0px;top:624.08px;line-height:1;white-space:pre;color:#222;"><span style="font-size:14.2px;letter-spacing:0.39px;">G90</span></div>
<div class="tab" style="left:12.0px;color:#e91e63;"><span style="font-size:14.2px;letter-spacing:-0.72px;">RUN</span></div>
<div class="tab" style="left:192.2px;"><span style="font-size:14.2px;letter-spacing:-0.15px;">MANUAL CONTROL</span></div>
<div class="tab" style="left:372.4px;"><span style="font-size:14.2px;letter-spacing:-0.00px;">COORDINATE</span></div>
<div class="tab" style="left:552.7px;"><span style="font-size:14.2px;letter-spacing:-0.31px;">G-PARAMETERS</span></div>
<div class="tab" style="left:732.9px;"><span style="font-size:14.2px;letter-spacing:-0.19px;">COMMANDS</span></div>
<div class="tab" style="left:913.1px;"><span style="font-size:14.2px;letter-spacing:-0.08px;">REALTIME COMMAN...</span></div>
<div class="tab" style="left:1093.3px;"><span style="font-size:14.2px;letter-spacing:-0.14px;">CUSTOM COMMANDS</span></div>
<div class="tab" style="left:1273.5px;"><span style="font-size:14.2px;letter-spacing:-0.02px;">PINOUT</span></div>
<div class="tab" style="left:1453.8px;"><span style="font-size:14.2px;letter-spacing:-0.48px;">CONSOLE</span></div>
<div class="abs" style="left:12px;top:698.4px;width:179px;height:2.300px;background:#e91e63"></div>
<div class="card" style="left:28.7px;width:176.2px"></div>
<div class="pill" style="left:45.9px;top:742.3px;width:141.4px;height:43px;"></div>
<svg style="position:absolute;left:65.5px;top:753.4px" width="20" height="20" viewBox="0 0 20 20"><path d="M2.200 1.600L17.800 10 2.200 18.400z" fill="#0808c8" stroke="#0808c8" stroke-width="0.6" stroke-linejoin="round"/></svg>
<div style="position:absolute;left:91.4px;top:756.08px;line-height:1;white-space:pre;color:#222;"><span style="font-size:14.2px;letter-spacing:-0.06px;">Run</span></div>
<div class="pill" style="left:45.9px;top:804.0px;width:141.4px;height:43px;"></div>
<svg style="position:absolute;left:65.7px;top:815.2px" width="19.6" height="19.6" viewBox="0 0 20 20"><rect x="1.500" y="1.700" width="7" height="16.600" rx=".6" fill="#0808c8"/><rect x="11.500" y="1.700" width="7" height="16.600" rx=".6" fill="#0808c8"/></svg>
<div style="position:absolute;left:91.4px;top:818.08px;line-height:1;white-space:pre;color:#222;"><span style="font-size:14.2px;letter-spacing:-0.11px;">Pause</span></div>
<div class="pill flat" style="left:45.9px;top:865.6999999999999px;width:141.4px;height:43px;"></div>
<svg style="position:absolute;left:65.7px;top:877.8px" width="19.6" height="19.6" viewBox="0 0 20 20"><rect x="1.600" y="1.700" width="16.800" height="16.600" rx=".7" fill="#0808c8"/></svg>
<div style="position:absolute;left:91.4px;top:880.08px;line-height:1;white-space:pre;color:#9a9a9a;"><span style="font-size:14.2px;letter-spacing:0.64px;">Stop</span></div>
<div class="card" style="left:210px;width:146.4px"></div>
<div class="card" style="left:361.8px;width:146.4px"></div>
<svg class="abs" style="left:218.0px;top:736.6px" width="130" height="130" viewBox="218.0 736.6 130 130"><circle cx="283" cy="801.6" r="60.1" fill="#dedede" stroke="#4caf78" stroke-width="3.3"/><path d="M236.97 835.04A56.90 56.90 0 1 1 337.27 784.49" fill="none" stroke="#0000ff" stroke-width="3.600"/><path d="M337.27 784.49A56.90 56.90 0 0 1 329.03 835.04" fill="none" stroke="#ff0000" stroke-width="3.600"/><path d="M239.72 833.05L234.46 836.87" stroke="#4caf78" stroke-width="2.400"/><text x="241.07" y="831.23" font-size="6.300" font-weight="bold" font-family="Liberation Sans" text-anchor="middle" fill="#2a2a2a">0</text><path d="M230.17 810.06L223.76 811.09" stroke="#4caf78" stroke-width="2.400"/><text x="237.09" y="811.35" font-size="6.300" font-weight="bold" font-family="Liberation Sans" text-anchor="middle" fill="#2a2a2a">111</text><path d="M232.06 785.25L225.87 783.26" stroke="#4caf78" stroke-width="2.400"/><text x="238.73" y="789.79" font-size="6.300" font-weight="bold" font-family="Liberation Sans" text-anchor="middle" fill="#2a2a2a">222</text><path d="M244.97 763.97L240.35 759.40" stroke="#4caf78" stroke-width="2.400"/><text x="249.95" y="771.29" font-size="6.300" font-weight="bold" font-family="Liberation Sans" text-anchor="middle" fill="#2a2a2a">333</text><path d="M266.11 750.84L264.06 744.67" stroke="#4caf78" stroke-width="2.400"/><text x="268.32" y="759.88" font-size="6.300" font-weight="bold" font-family="Liberation Sans" text-anchor="middle" fill="#2a2a2a">444</text><path d="M290.91 748.69L291.87 742.26" stroke="#4caf78" stroke-width="2.400"/><text x="289.87" y="758.01" font-size="6.300" font-weight="bold" font-family="Liberation Sans" text-anchor="middle" fill="#2a2a2a">556</text><path d="M313.99 757.99L317.76 752.69" stroke="#4caf78" stroke-width="2.400"/><text x="309.94" y="766.10" font-size="6.300" font-weight="bold" font-family="Liberation Sans" text-anchor="middle" fill="#2a2a2a">667</text><path d="M330.37 776.73L336.12 773.71" stroke="#4caf78" stroke-width="2.400"/><text x="324.17" y="782.38" font-size="6.300" font-weight="bold" font-family="Liberation Sans" text-anchor="middle" fill="#2a2a2a">778</text><path d="M336.49 800.85L342.99 800.76" stroke="#4caf78" stroke-width="2.400"/><text x="329.50" y="803.35" font-size="6.300" font-weight="bold" font-family="Liberation Sans" text-anchor="middle" fill="#2a2a2a">889</text><path d="M331.04 825.14L336.88 828.00" stroke="#4caf78" stroke-width="2.400"/><text x="324.76" y="824.46" font-size="6.300" font-weight="bold" font-family="Liberation Sans" text-anchor="middle" fill="#2a2a2a">1000</text><path d="M283 801.6L236.08 835.69" stroke="#4caf78" stroke-width="2.600"/><circle cx="283" cy="801.6" r="6" fill="#4caf78"/><text x="282.50" y="827.80" font-size="12.800" font-family="Liberation Sans" text-anchor="middle" fill="#000" letter-spacing="0.25">Feed</text><text x="282.50" y="846.50" font-size="12.800" font-family="Liberation Sans" text-anchor="middle" fill="#000" letter-spacing="0.25">Rate</text></svg>
<svg class="abs" style="left:370.0px;top:734.6px" width="130" height="130" viewBox="370.0 734.6 130 130"><circle cx="435" cy="799.6" r="60.1" fill="#dedede" stroke="#4caf78" stroke-width="3.3"/><path d="M388.97 833.04A56.90 56.90 0 1 1 489.27 782.49" fill="none" stroke="#0000ff" stroke-width="3.600"/><path d="M489.27 782.49A56.90 56.90 0 0 1 481.03 833.04" fill="none" stroke="#ff0000" stroke-width="3.600"/><path d="M391.72 831.05L386.46 834.87" stroke="#4caf78" stroke-width="2.400"/><text x="393.07" y="829.23" font-size="6.300" font-weight="bold" font-family="Liberation Sans" text-anchor="middle" fill="#2a2a2a">0</text><path d="M382.17 808.06L375.76 809.09" stroke="#4caf78" stroke-width="2.400"/><text x="389.09" y="809.35" font-size="6.300" font-weight="bold" font-family="Liberation Sans" text-anchor="middle" fill="#2a2a2a">111</text><path d="M384.06 783.25L377.87 781.26" stroke="#4caf78" stroke-width="2.400"/><text x="390.73" y="787.79" font-size="6.300" font-weight="bold" font-family="Liberation Sans" text-anchor="middle" fill="#2a2a2a">222</text><path d="M396.97 761.97L392.35 757.40" stroke="#4caf78" stroke-width="2.400"/><text x="401.95" y="769.29" font-size="6.300" font-weight="bold" font-family="Liberation Sans" text-anchor="middle" fill="#2a2a2a">333</text><path d="M418.11 748.84L416.06 742.67" stroke="#4caf78" stroke-width="2.400"/><text x="420.32" y="757.88" font-size="6.300" font-weight="bold" font-family="Liberation Sans" text-anchor="middle" fill="#2a2a2a">444</text><path d="M442.91 746.69L443.87 740.26" stroke="#4caf78" stroke-width="2.400"/><text x="441.87" y="756.01" font-size="6.300" font-weight="bold" font-family="Liberation Sans" text-anchor="middle" fill="#2a2a2a">556</text><path d="M465.99 755.99L469.76 750.69" stroke="#4caf78" stroke-width="2.400"/><text x="461.94" y="764.10" font-size="6.300" font-weight="bold" font-family="Liberation Sans" text-anchor="middle" fill="#2a2a2a">667</text><path d="M482.37 774.73L488.12 771.71" stroke="#4caf78" stroke-width="2.400"/><text x="476.17" y="780.38" font-size="6.300" font-weight="bold" font-family="Liberation Sans" text-anchor="middle" fill="#2a2a2a">778</text><path d="M488.49 798.85L494.99 798.76" stroke="#4caf78" stroke-width="2.400"/><text x="481.50" y="801.35" font-size="6.300" font-weight="bold" font-family="Liberation Sans" text-anchor="middle" fill="#2a2a2a">889</text><path d="M483.04 823.14L488.88 826.00" stroke="#4caf78" stroke-width="2.400"/><text x="476.76" y="822.46" font-size="6.300" font-weight="bold" font-family="Liberation Sans" text-anchor="middle" fill="#2a2a2a">1000</text><path d="M435 799.6L388.08 833.69" stroke="#4caf78" stroke-width="2.600"/><circle cx="435" cy="799.6" r="6" fill="#4caf78"/><text x="435.00" y="825.80" font-size="12.800" font-family="Liberation Sans" text-anchor="middle" fill="#000" letter-spacing="0.25">Spindle</text></svg>
<div style="position:absolute;left:274.8px;top:882.71px;line-height:1;white-space:pre;color:#9a9a9a;"><span style="font-size:17px;">0</span></div>
<div class="abs" style="left:221.200px;top:907.400px;width:118px;height:1.100px;background:#9e9e9e"></div>
<div class="abs" style="left:429.400px;top:886.300px;width:24.200px;height:13px;border-radius:7px;background:#bdbdbd"></div>
<div class="abs" style="left:417px;top:883px;width:19.400px;height:19.400px;border-radius:50%;background:#fafafa;box-shadow:0 1px 3px rgba(0,0,0,.4),0 1px 1px rgba(0,0,0,.2)"></div>
<div class="card" style="left:513.6px;width:184.2px"></div>
<div class="pill" style="left:530.9px;top:743.2px;width:148.8px;height:42.8px;"></div>
<svg style="position:absolute;left:550.6px;top:754.8px" width="19.6" height="19.6" viewBox="0 0 20 20"><circle cx="10" cy="10" r="8.600" fill="#0808c8"/><path d="M5.300 10.200l3.300 3.300 6.100-6.100" fill="none" stroke="#d9dbdb" stroke-width="2.500"/></svg>
<div style="position:absolute;left:576.7px;top:758.08px;line-height:1;white-space:pre;color:#222;"><span style="font-size:14.2px;letter-spacing:0.66px;">Simulate</span></div>
<div class="pill" style="left:530.9px;top:806.3px;width:148.8px;height:37.7px;"></div>
<svg style="position:absolute;left:551.0px;top:818.3px" width="18.8" height="18.8" viewBox="0 0 20 20"><path fill-rule="evenodd" d="M16.39 8.36L18.58 8.57L18.58 11.43L16.39 11.64L15.68 13.36L17.08 15.06L15.06 17.08L13.36 15.68L11.64 16.39L11.43 18.58L8.57 18.58L8.36 16.39L6.64 15.68L4.94 17.08L2.92 15.06L4.32 13.36L3.61 11.64L1.42 11.43L1.42 8.57L3.61 8.36L4.32 6.64L2.92 4.94L4.94 2.92L6.64 4.32L8.36 3.61L8.57 1.42L11.43 1.42L11.64 3.61L13.36 4.32L15.06 2.92L17.08 4.94L15.68 6.64ZM7.00 10.00a3.00 3.00 0 1 0 6.00 0a3.00 3.00 0 1 0 -6.00 0Z" fill="#0808c8" stroke="#0808c8" stroke-width="0.8" stroke-linejoin="round"/></svg>
<div style="position:absolute;left:576.7px;top:818.08px;line-height:1;white-space:pre;color:#222;"><span style="font-size:14.2px;letter-spacing:0.67px;">Safety Door</span></div>
<div class="pill" style="left:530.9px;top:865.6px;width:148.8px;height:42.9px;"></div>
<svg style="position:absolute;left:551.1px;top:877.3px" width="18.6" height="18.6" viewBox="0 0 20 20"><path d="M10 3.400L2.600 9.500v7.200a.6.600 0 0 0 .6.600h4.900v-5h3.800v5h4.900a.6.600 0 0 0 .6-.6V9.500z" fill="#0808c8"/><path d="M0.400 9.600L10 1.700l3.500 2.900V2.900h2.600v3.800l3.500 2.900-1.100 1.300L10 4.300 1.500 10.900z" fill="#0808c8"/></svg>
<div style="position:absolute;left:576.7px;top:880.08px;line-height:1;white-space:pre;color:#222;"><span style="font-size:14.2px;letter-spacing:0.60px;">Homing</span></div>
<div class="card" style="left:702.9px;width:175.9px"></div>
<div class="pill" style="left:720.3px;top:742.5px;width:140.4px;height:42.9px;"></div>
<svg style="position:absolute;left:740.6px;top:754.0px" width="18.6" height="18.6" viewBox="0 0 20 20"><path d="M10 3.400L2.600 9.500v7.200a.6.600 0 0 0 .6.600h4.900v-5h3.800v5h4.900a.6.600 0 0 0 .6-.6V9.500z" fill="#0808c8"/><path d="M0.400 9.600L10 1.700l3.500 2.900V2.900h2.600v3.800l3.500 2.900-1.100 1.300L10 4.300 1.500 10.900z" fill="#0808c8"/></svg>
<div style="position:absolute;left:765.6px;top:757.08px;line-height:1;white-space:pre;color:#222;"><span style="font-size:14.2px;letter-spacing:0.45px;">Go Home</span></div>
<div class="pill" style="left:720.3px;top:804.35px;width:140.4px;height:42.9px;"></div>
<svg style="position:absolute;left:741.3px;top:816.35px" width="16.4" height="19.6" viewBox="1.800 0 16.400 20"><rect x="3.600" y="0" width="12.800" height="3.500" fill="#0808c8"/><path d="M10 5.800l6.200 6.800h-3.600v7.400h-5.200v-7.400H3.800z" fill="#0808c8"/></svg>
<div style="position:absolute;left:765.6px;top:819.08px;line-height:1;white-space:pre;color:#222;"><span style="font-size:14.2px;letter-spacing:0.35px;">Go Z Up</span></div>
<div class="pill" style="left:720.3px;top:866.2px;width:140.4px;height:42.9px;"></div>
<svg style="position:absolute;left:741.3px;top:879.0px" width="16.4" height="19.6" viewBox="1.800 0 16.400 20"><rect x="3.600" y="16.500" width="12.800" height="3.500" fill="#0808c8"/><path d="M10 14.200l6.200-6.800h-3.600V0h-5.200v7.400H3.800z" fill="#0808c8"/></svg>
<div style="position:absolute;left:765.6px;top:880.08px;line-height:1;white-space:pre;color:#222;"><span style="font-size:14.2px;letter-spacing:0.57px;">Go Z Zero</span></div>
<div class="card" style="left:884px;width:146.6px"></div>
<div class="pill" style="left:901.6px;top:742.5px;width:110.9px;height:42.9px;"></div>
<svg style="position:absolute;left:921.2px;top:754.5px" width="18.8" height="18.8" viewBox="0 0 20 20"><path fill-rule="evenodd" d="M16.39 8.36L18.58 8.57L18.58 11.43L16.39 11.64L15.68 13.36L17.08 15.06L15.06 17.08L13.36 15.68L11.64 16.39L11.43 18.58L8.57 18.58L8.36 16.39L6.64 15.68L4.94 17.08L2.92 15.06L4.32 13.36L3.61 11.64L1.42 11.43L1.42 8.57L3.61 8.36L4.32 6.64L2.92 4.94L4.94 2.92L6.64 4.32L8.36 3.61L8.57 1.42L11.43 1.42L11.64 3.61L13.36 4.32L15.06 2.92L17.08 4.94L15.68 6.64ZM7.00 10.00a3.00 3.00 0 1 0 6.00 0a3.00 3.00 0 1 0 -6.00 0Z" fill="#0808c8" stroke="#0808c8" stroke-width="0.8" stroke-linejoin="round"/></svg>
<div style="position:absolute;left:946.7px;top:757.08px;line-height:1;white-space:pre;color:#222;"><span style="font-size:14.2px;letter-spacing:0.28px;">Zero XY</span></div>
<div class="pill" style="left:901.6px;top:804.35px;width:110.9px;height:42.9px;"></div>
<svg style="position:absolute;left:921.2px;top:816.35px" width="18.8" height="18.8" viewBox="0 0 20 20"><path fill-rule="evenodd" d="M16.39 8.36L18.58 8.57L18.58 11.43L16.39 11.64L15.68 13.36L17.08 15.06L15.06 17.08L13.36 15.68L11.64 16.39L11.43 18.58L8.57 18.58L8.36 16.39L6.64 15.68L4.94 17.08L2.92 15.06L4.32 13.36L3.61 11.64L1.42 11.43L1.42 8.57L3.61 8.36L4.32 6.64L2.92 4.94L4.94 2.92L6.64 4.32L8.36 3.61L8.57 1.42L11.43 1.42L11.64 3.61L13.36 4.32L15.06 2.92L17.08 4.94L15.68 6.64ZM7.00 10.00a3.00 3.00 0 1 0 6.00 0a3.00 3.00 0 1 0 -6.00 0Z" fill="#0808c8" stroke="#0808c8" stroke-width="0.8" stroke-linejoin="round"/></svg>
<div style="position:absolute;left:946.7px;top:819.08px;line-height:1;white-space:pre;color:#222;"><span style="font-size:14.2px;letter-spacing:0.74px;">Zero Z</span></div>
<div class="pill" style="left:901.6px;top:866.2px;width:110.9px;height:42.9px;"></div>
<svg style="position:absolute;left:920.8px;top:877.8px" width="20" height="18.2" viewBox="-1 0 22 20"><path d="M8 1.5h4v5.5h3.6L10 12.8 4.4 7H8z" fill="#0808c8"/><path d="M0.8 12.2h4.6l2.2 2.3a3.3 3.3 0 0 0 4.8 0l2.2-2.3h4.6a0.9 0.9 0 0 1 .9.9v4.3a0.9 0.9 0 0 1-.9.9H0.8a0.9 0.9 0 0 1-.9-.9v-4.3a0.9 0.9 0 0 1 .9-.9z" fill="#0808c8"/><rect x="14.2" y="15.4" width="1.4" height="1.4" fill="#d9dbdb"/><rect x="16.8" y="15.4" width="1.4" height="1.4" fill="#d9dbdb"/></svg>
<div style="position:absolute;left:946.7px;top:876.08px;line-height:1;white-space:pre;color:#222;"><span style="font-size:14.2px;letter-spacing:0.39px;">Z Probe</span></div>
<div class="card" style="left:1035.8px;width:189.1px"></div>
<svg style="position:absolute;left:1063.15px;top:751.75px" width="19.7" height="19.7" viewBox="0 0 20 20"><circle cx="10" cy="10" r="8.6" fill="#0808c8"/><path d="M8.6 5h2.8v3.6h3.6v2.8h-3.6v3.6h-2.8v-3.6h-3.6v-2.8h3.6z" fill="#fafafa"/></svg>
<div class="abs" style="left:1064.3px;top:793.900px;width:17.400px;height:62.600px;background:#0000ff"></div>
<svg style="position:absolute;left:1063.15px;top:878.65px" width="19.7" height="19.7" viewBox="0 0 20 20"><circle cx="10" cy="10" r="8.6" fill="#0808c8"/><path d="M5 8.6h10v2.8h-10z" fill="#fafafa"/></svg>
<svg style="position:absolute;left:1119.95px;top:751.75px" width="19.7" height="19.7" viewBox="0 0 20 20"><circle cx="10" cy="10" r="8.6" fill="#0808c8"/><path d="M8.6 5h2.8v3.6h3.6v2.8h-3.6v3.6h-2.8v-3.6h-3.6v-2.8h3.6z" fill="#fafafa"/></svg>
<div class="abs" style="left:1121.1px;top:793.900px;width:17.400px;height:62.600px;background:#0000ff"></div>
<svg style="position:absolute;left:1119.95px;top:878.65px" width="19.7" height="19.7" viewBox="0 0 20 20"><circle cx="10" cy="10" r="8.6" fill="#0808c8"/><path d="M5 8.6h10v2.8h-10z" fill="#fafafa"/></svg>
<svg style="position:absolute;left:1176.75px;top:751.75px" width="19.7" height="19.7" viewBox="0 0 20 20"><circle cx="10" cy="10" r="8.6" fill="#0808c8"/><path d="M8.6 5h2.8v3.6h3.6v2.8h-3.6v3.6h-2.8v-3.6h-3.6v-2.8h3.6z" fill="#fafafa"/></svg>
<div class="abs" style="left:1177.9px;top:793.900px;width:17.400px;height:62.600px;background:#0000ff"></div>
<svg style="position:absolute;left:1176.75px;top:878.65px" width="19.7" height="19.7" viewBox="0 0 20 20"><circle cx="10" cy="10" r="8.6" fill="#0808c8"/><path d="M5 8.6h10v2.8h-10z" fill="#fafafa"/></svg>
<div class="card" style="left:1229.7px;width:151.4px"></div>
<div style="position:absolute;left:1241.9px;top:736.08px;line-height:1;white-space:pre;color:#222;"><span style="font-size:14.2px;letter-spacing:-0.34px;">GRBL:</span></div>
<div style="position:absolute;left:1296.2px;top:736.08px;line-height:1;white-space:pre;color:#4caf50;"><span style="font-size:14.2px;letter-spacing:0.56px;">1.1h</span></div>
<div style="position:absolute;left:1241.9px;top:763.08px;line-height:1;white-space:pre;color:#4caf50;"><span style="font-size:14.2px;letter-spacing:0.45px;">3.2.5-FULL</span></div>
<div style="position:absolute;left:1241.9px;top:789.08px;line-height:1;white-space:pre;color:#222;"><span style="font-size:14.2px;letter-spacing:0.85px;">Finish time: 21:24</span></div>
<div style="position:absolute;left:1241.9px;top:815.08px;line-height:1;white-space:pre;color:#222;"><span style="font-size:14.2px;letter-spacing:1.08px;">T. Total: 00:17</span></div>
<div style="position:absolute;left:1241.9px;top:842.08px;line-height:1;white-space:pre;color:#222;"><span style="font-size:14.2px;letter-spacing:0.80px;">T. Elapsed: 00:00</span></div>
<div style="position:absolute;left:1241.9px;top:868.08px;line-height:1;white-space:pre;color:#222;"><span style="font-size:14.2px;letter-spacing:0.68px;">Progress: 0%</span></div>
<div class="card" style="left:1386.6px;width:195.2px"></div>
<div style="position:absolute;left:1398.5px;top:736.08px;line-height:1;white-space:pre;color:#222;"><span style="font-size:14.2px;letter-spacing:0.70px;">Program info:</span></div>
<div style="position:absolute;left:1398.5px;top:758.08px;line-height:1;white-space:pre;color:#222;"><span style="font-size:14.2px;letter-spacing:0.94px;">Length: 105.0 mm</span></div>
<div style="position:absolute;left:1398.5px;top:774.08px;line-height:1;white-space:pre;color:#222;"><span style="font-size:14.2px;letter-spacing:1.00px;">Width: 106.0 mm</span></div>
<div style="position:absolute;left:1398.5px;top:791.08px;line-height:1;white-space:pre;color:#222;"><span style="font-size:14.2px;letter-spacing:0.95px;">Height: 6.5 mm</span></div>
<div style="position:absolute;left:1398.5px;top:808.08px;line-height:1;white-space:pre;color:#222;"><span style="font-size:14.2px;letter-spacing:0.54px;">Use Absolute Dist.</span></div>
<div style="position:absolute;left:1398.5px;top:824.08px;line-height:1;white-space:pre;color:#222;"><span style="font-size:14.2px;letter-spacing:0.48px;">Spindle RPM: 1000</span></div>
<div style="position:absolute;left:1398.5px;top:841.08px;line-height:1;white-space:pre;color:#222;"><span style="font-size:14.2px;letter-spacing:0.58px;">Feed Rate: 600</span></div>
<div style="position:absolute;left:1398.5px;top:857.08px;line-height:1;white-space:pre;color:#222;"><span style="font-size:14.2px;letter-spacing:0.71px;">Lines: 1088</span></div>
<div class="abs" style="left:1580px;top:715px;width:54px;height:222px;overflow:hidden"><div class="card" style="left:7.200px;top:7.500px;width:80px"></div>
<div class="abs" style="left:19.100px;top:19.8px;width:58px;height:58px;border-radius:5px;background:#e2e2e2"></div>
<div class="abs" style="left:19.100px;top:83.4px;width:58px;height:58px;border-radius:5px;background:#e2e2e2"></div>
<div class="abs" style="left:19.100px;top:147.0px;width:58px;height:58px;border-radius:5px;background:#e2e2e2"></div>
<svg class="abs" style="left:30px;top:30px" width="40" height="170" viewBox="1610 745 40 170"><g fill="#424244" stroke="#424244" stroke-width="2" stroke-linejoin="round"><polygon points="1617.700,753.200 1641,753.200 1617.700,774.400"/><polygon points="1620.400,827 1640,811.500 1640,842.500"/><polygon points="1617.700,880.500 1617.700,901 1641,901"/></g></svg>
</div>
<div style="position:absolute;left:20.9px;top:949.08px;line-height:1;white-space:pre;color:#222;"><span style="font-size:14.2px;letter-spacing:0.69px;">fan.stl</span></div>
<div class="abs" style="left:69px;top:954.300px;width:1430px;height:4.200px;background:#f8bbd0"></div>
<div style="position:absolute;left:1515.9px;top:949.08px;line-height:1;white-space:pre;color:#222;"><span style="font-size:14.2px;letter-spacing:0.28px;">STATUS:</span></div>
<div style="position:absolute;left:1587.9px;top:949.08px;line-height:1;white-space:pre;color:#5cb860;"><span style="font-size:14.2px;letter-spacing:0.88px;">Idle</span></div>
<svg class="abs" style="left:0;top:966px" width="10" height="10"><path d="M0 0V10H10A10 10 0 0 1 0 0Z" fill="#1a1a6e"/></svg>
<svg class="abs" style="left:1636px;top:966px" width="10" height="10"><path d="M10 0V10H0A10 10 0 0 0 10 0Z" fill="#1a1a6e"/></svg>
</body></html>
